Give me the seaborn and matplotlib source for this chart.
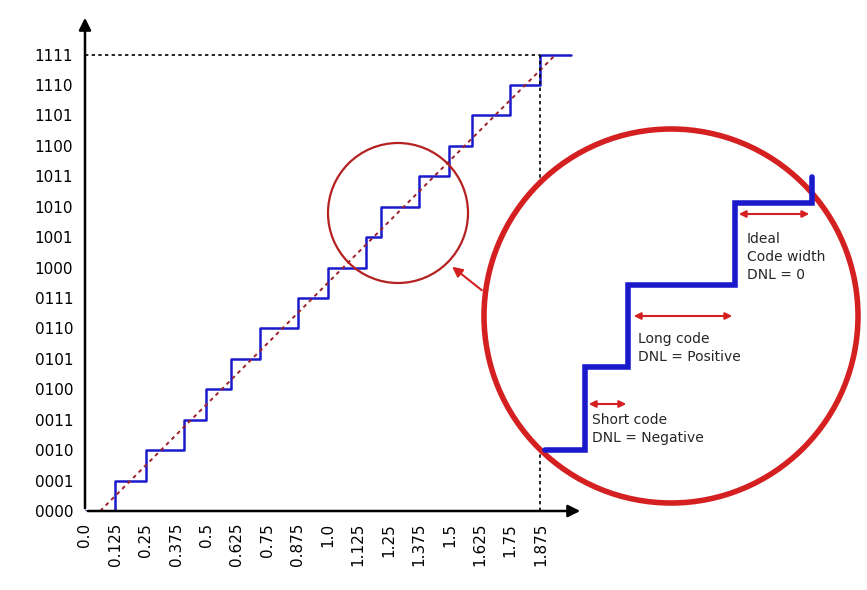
import matplotlib
matplotlib.use("Agg")
import matplotlib.pyplot as plt
import seaborn as sns
import pandas as pd
from matplotlib.patches import Circle

sns.set_style("white")
plt.rcParams['font.family'] = ['DejaVu Sans']

# code transition points (input voltage) for the non-ideal ADC
transitions = [0.0, 0.125, 0.25, 0.406, 0.5, 0.6, 0.719, 0.875, 1.0, 1.156,
               1.219, 1.375, 1.5, 1.594, 1.75, 1.875, 2.0]
codes = list(range(16)) + [15]
ideal_x = [0.0625, 1.9375]
ideal_y = [0, 15]
x_ticks = [0.0, 0.125, 0.25, 0.375, 0.5, 0.625, 0.75, 0.875, 1.0, 1.125,
           1.25, 1.375, 1.5, 1.625, 1.75, 1.875]
x_labels = ["0.0", "0.125", "0.25", "0.375", "0.5", "0.625", "0.75", "0.875", "1.0",
            "1.125", "1.25", "1.375", "1.5", "1.625", "1.75", "1.875"]
y_labels = [format(i, "04b") for i in range(16)]

# zoomed inset staircase (figure pixel coords)
inset_x = [545, 585, 585, 628, 628, 735, 735, 812, 812]
inset_y = [450, 450, 367, 367, 285, 285, 203, 203, 177]

BLUE = "#1a1acc"
RED = "#d42020"

fig = plt.figure(figsize=(8.67, 5.9), dpi=100)
ax = fig.add_axes([85 / 867, 79 / 590, 498 / 867, 496 / 590])

df = pd.DataFrame({"x": transitions, "code": codes})
sns.lineplot(data=df, x="x", y="code", drawstyle="steps-post", color=BLUE, lw=1.8, ax=ax)
sns.lineplot(x=ideal_x, y=ideal_y, color="#a0202a", lw=1.4, ls=(0, (2, 2)), ax=ax)
ax.plot([0, 1.875], [15, 15], color="black", ls=(0, (2, 2)), lw=1.2)
ax.plot([1.875, 1.875], [0, 15], color="black", ls=(0, (2, 2)), lw=1.2)

ax.set_xlim(0, 2.05)
ax.set_ylim(0, 16.3)
for s in ax.spines.values():
    s.set_visible(False)
ax.annotate("", xy=(2.05, 0), xytext=(0, 0),
            arrowprops=dict(arrowstyle="-|>", color="black", lw=1.8, mutation_scale=18))
ax.annotate("", xy=(0, 16.3), xytext=(0, 0),
            arrowprops=dict(arrowstyle="-|>", color="black", lw=1.8, mutation_scale=18))
ax.set_xticks(x_ticks)
ax.set_xticklabels(x_labels, rotation=90, fontsize=11)
ax.set_yticks(range(16))
ax.set_yticklabels(y_labels, fontsize=11)
ax.tick_params(direction="inout", length=9, width=1.5, colors="black", pad=4)
ax.set_xlabel("")
ax.set_ylabel("")

ov = fig.add_axes([0, 0, 1, 1], zorder=5)
ov.set_xlim(0, 867)
ov.set_ylim(590, 0)
ov.axis("off")
ov.patch.set_alpha(0)
ov.add_patch(Circle((398, 213), 70, fill=False, ec="#b52020", lw=1.6))
ov.add_patch(Circle((671, 316), 187, fc="white", ec=RED, lw=4))
ov.annotate("", xy=(450, 265), xytext=(484, 292),
            arrowprops=dict(arrowstyle="-|>", color=RED, lw=1.5, mutation_scale=15))
ov.plot(inset_x, inset_y, color=BLUE, lw=4, solid_joinstyle="miter")
for x0, x1, y in [(586, 629, 404), (631, 735, 316), (736, 812, 214)]:
    ov.annotate("", xy=(x1, y), xytext=(x0, y),
                arrowprops=dict(arrowstyle="<|-|>", color=RED, lw=1.5, mutation_scale=10))
ov.text(747, 232, "Ideal\nCode width\nDNL = 0", fontsize=10, va="top", linespacing=1.35)
ov.text(638, 332, "Long code\nDNL = Positive", fontsize=10, va="top", linespacing=1.35)
ov.text(592, 413, "Short code\nDNL = Negative", fontsize=10, va="top", linespacing=1.35)

fig.savefig("out.png", dpi=100)
